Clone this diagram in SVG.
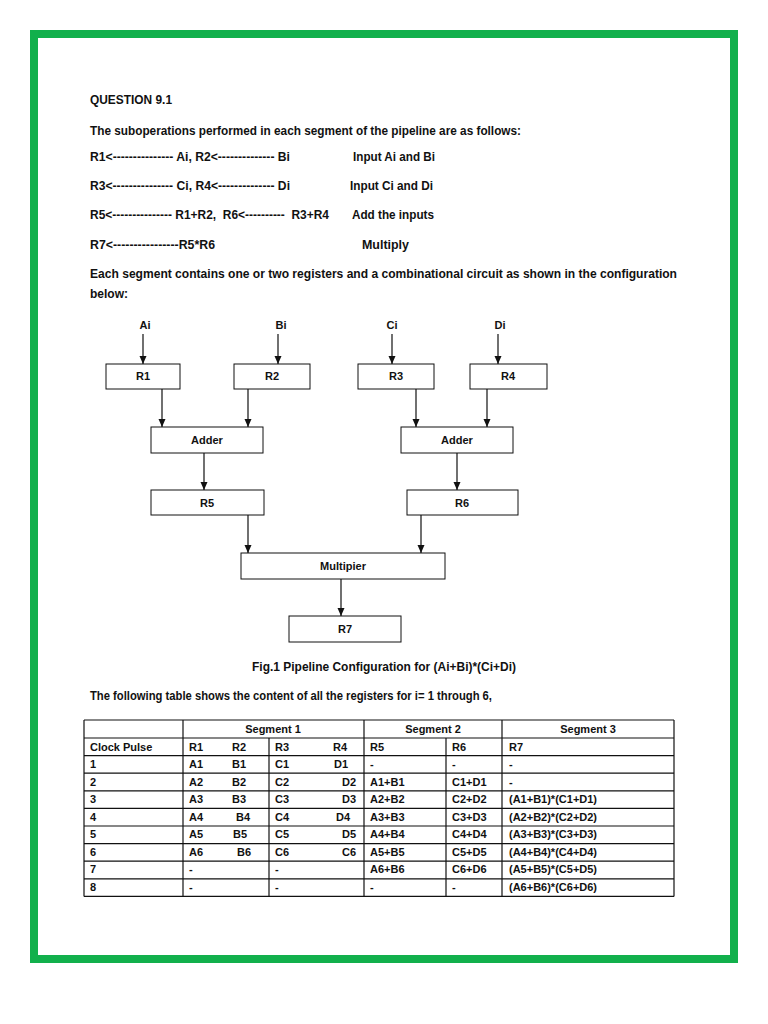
<svg xmlns="http://www.w3.org/2000/svg" width="768" height="1024" viewBox="0 0 768 1024">
<style>
text{font-family:"Liberation Sans",Arial,sans-serif;font-weight:bold;font-size:11px;fill:#111}
.p{font-size:12px}
.c{text-anchor:middle}
.r{text-anchor:end}
.box rect{fill:#fff;stroke:#111;stroke-width:1}
.con line{stroke:#111;stroke-width:1.2;marker-end:url(#ah)}
.tb line{stroke:#111;stroke-width:1.2}
</style>
<defs>
<marker id="ah" markerUnits="userSpaceOnUse" markerWidth="8" markerHeight="8" refX="8" refY="3.5" orient="auto">
<path d="M0,0 L8,3.5 L0,7 z" fill="#111"/>
</marker>
</defs>
<rect width="768" height="1024" fill="#fff"/>
<rect x="34" y="34" width="700" height="925" fill="none" stroke="#12b04c" stroke-width="8"/>

<text class="p" x="90" y="104" textLength="82" lengthAdjust="spacingAndGlyphs">QUESTION 9.1</text>
<text class="p" x="90" y="135" textLength="431" lengthAdjust="spacingAndGlyphs">The suboperations performed in each segment of the pipeline are as follows:</text>
<text class="p" x="90" y="161" textLength="200" lengthAdjust="spacingAndGlyphs">R1&lt;--------------- Ai, R2&lt;-------------- Bi</text>
<text class="p" x="353" y="161" textLength="82" lengthAdjust="spacingAndGlyphs">Input Ai and Bi</text>
<text class="p" x="90" y="190" textLength="200" lengthAdjust="spacingAndGlyphs">R3&lt;--------------- Ci, R4&lt;-------------- Di</text>
<text class="p" x="350" y="190" textLength="83" lengthAdjust="spacingAndGlyphs">Input Ci and Di</text>
<text class="p" x="90" y="219" xml:space="preserve" textLength="239" lengthAdjust="spacingAndGlyphs">R5&lt;--------------- R1+R2,  R6&lt;----------  R3+R4</text>
<text class="p" x="352" y="219" textLength="82" lengthAdjust="spacingAndGlyphs">Add the inputs</text>
<text class="p" x="90" y="249" textLength="125" lengthAdjust="spacingAndGlyphs">R7&lt;----------------R5*R6</text>
<text class="p" x="362" y="249" textLength="47" lengthAdjust="spacingAndGlyphs">Multiply</text>
<text class="p" x="90" y="278" textLength="587" lengthAdjust="spacingAndGlyphs">Each segment contains one or two registers and a combinational circuit as shown in the configuration</text>
<text class="p" x="90" y="298" textLength="38" lengthAdjust="spacingAndGlyphs">below:</text>

<g id="labels">
<text class="c" x="145" y="329">Ai</text>
<text class="c" x="281" y="329">Bi</text>
<text class="c" x="392" y="329">Ci</text>
<text class="c" x="500" y="329">Di</text>
</g>

<g id="R1" class="box"><rect x="106" y="364" width="74" height="25"/><text class="c" x="143" y="380">R1</text></g>
<g id="R2" class="box"><rect x="234" y="364" width="76" height="25"/><text class="c" x="272" y="380">R2</text></g>
<g id="R3" class="box"><rect x="358" y="364" width="76" height="25"/><text class="c" x="396" y="380">R3</text></g>
<g id="R4" class="box"><rect x="470" y="364" width="77" height="25"/><text class="c" x="508" y="380">R4</text></g>
<g id="Adder1" class="box"><rect x="151" y="427" width="112" height="26"/><text class="c" x="207" y="444">Adder</text></g>
<g id="Adder2" class="box"><rect x="401" y="427" width="112" height="26"/><text class="c" x="457" y="444">Adder</text></g>
<g id="R5" class="box"><rect x="151" y="490" width="113" height="25"/><text class="c" x="207" y="507">R5</text></g>
<g id="R6" class="box"><rect x="407" y="490" width="111" height="25"/><text class="c" x="462" y="507">R6</text></g>
<g id="Multiplier" class="box"><rect x="241" y="553" width="204" height="26"/><text class="c" x="343" y="570">Multipier</text></g>
<g id="R7" class="box"><rect x="289" y="616" width="112" height="26"/><text class="c" x="345" y="633">R7</text></g>

<g id="connectors" class="con">
<line x1="143" y1="334" x2="143" y2="364"/>
<line x1="278" y1="334" x2="278" y2="364"/>
<line x1="392" y1="334" x2="392" y2="364"/>
<line x1="498" y1="334" x2="498" y2="364"/>
<line x1="162" y1="389" x2="162" y2="427"/>
<line x1="248" y1="389" x2="248" y2="427"/>
<line x1="416" y1="389" x2="416" y2="427"/>
<line x1="487" y1="389" x2="487" y2="427"/>
<line x1="204" y1="453" x2="204" y2="490"/>
<line x1="457" y1="453" x2="457" y2="490"/>
<line x1="248" y1="515" x2="248" y2="553"/>
<line x1="421" y1="515" x2="421" y2="553"/>
<line x1="341" y1="579" x2="341" y2="616"/>
</g>

<text class="p" x="252" y="671" textLength="264" lengthAdjust="spacingAndGlyphs">Fig.1 Pipeline Configuration for (Ai+Bi)*(Ci+Di)</text>
<text class="p" x="90" y="700" textLength="402" lengthAdjust="spacingAndGlyphs">The following table shows the content of all the registers for i= 1 through 6,</text>

<g id="table">
<g class="tb">
<line x1="84" y1="720" x2="674" y2="720"/>
<line x1="84" y1="738" x2="674" y2="738"/>
<line x1="84" y1="755.6" x2="674" y2="755.6"/>
<line x1="84" y1="773.2" x2="674" y2="773.2"/>
<line x1="84" y1="790.8" x2="674" y2="790.8"/>
<line x1="84" y1="808.4" x2="674" y2="808.4"/>
<line x1="84" y1="826" x2="674" y2="826"/>
<line x1="84" y1="843.6" x2="674" y2="843.6"/>
<line x1="84" y1="861.2" x2="674" y2="861.2"/>
<line x1="84" y1="878.8" x2="674" y2="878.8"/>
<line x1="84" y1="896.4" x2="674" y2="896.4"/>
<line x1="84" y1="720" x2="84" y2="896.4"/>
<line x1="183" y1="720" x2="183" y2="896.4"/>
<line x1="364" y1="720" x2="364" y2="896.4"/>
<line x1="502" y1="720" x2="502" y2="896.4"/>
<line x1="674" y1="720" x2="674" y2="896.4"/>
<line x1="269" y1="738" x2="269" y2="896.4"/>
<line x1="446" y1="738" x2="446" y2="896.4"/>
</g>
<text class="c" x="273" y="733">Segment 1</text>
<text class="c" x="433" y="733">Segment 2</text>
<text class="c" x="588" y="733">Segment 3</text>

<text x="90" y="751">Clock Pulse</text>
<text x="189" y="751">R1</text><text x="232" y="751">R2</text><text x="275" y="751">R3</text><text x="333" y="751">R4</text>
<text x="370" y="751">R5</text><text x="452" y="751">R6</text><text x="509" y="751">R7</text>

<text x="90" y="768">1</text>
<text x="189" y="768">A1</text><text x="232" y="768">B1</text><text x="275" y="768">C1</text><text class="r" x="348" y="768">D1</text>
<text x="370" y="768">-</text><text x="452" y="768">-</text><text x="509" y="768">-</text>

<text x="90" y="786">2</text>
<text x="189" y="786">A2</text><text x="232" y="786">B2</text><text x="275" y="786">C2</text><text class="r" x="356" y="786">D2</text>
<text x="370" y="786">A1+B1</text><text x="452" y="786">C1+D1</text><text x="509" y="786">-</text>

<text x="90" y="803">3</text>
<text x="189" y="803">A3</text><text x="232" y="803">B3</text><text x="275" y="803">C3</text><text class="r" x="356" y="803">D3</text>
<text x="370" y="803">A2+B2</text><text x="452" y="803">C2+D2</text><text x="509" y="803">(A1+B1)*(C1+D1)</text>

<text x="90" y="821">4</text>
<text x="189" y="821">A4</text><text x="236" y="821">B4</text><text x="275" y="821">C4</text><text class="r" x="350" y="821">D4</text>
<text x="370" y="821">A3+B3</text><text x="452" y="821">C3+D3</text><text x="509" y="821">(A2+B2)*(C2+D2)</text>

<text x="90" y="838">5</text>
<text x="189" y="838">A5</text><text x="233" y="838">B5</text><text x="275" y="838">C5</text><text class="r" x="356" y="838">D5</text>
<text x="370" y="838">A4+B4</text><text x="452" y="838">C4+D4</text><text x="509" y="838">(A3+B3)*(C3+D3)</text>

<text x="90" y="856">6</text>
<text x="189" y="856">A6</text><text x="237" y="856">B6</text><text x="275" y="856">C6</text><text class="r" x="356" y="856">C6</text>
<text x="370" y="856">A5+B5</text><text x="452" y="856">C5+D5</text><text x="509" y="856">(A4+B4)*(C4+D4)</text>

<text x="90" y="873">7</text>
<text x="189" y="873">-</text><text x="275" y="873">-</text>
<text x="370" y="873">A6+B6</text><text x="452" y="873">C6+D6</text><text x="509" y="873">(A5+B5)*(C5+D5)</text>

<text x="90" y="891">8</text>
<text x="189" y="891">-</text><text x="275" y="891">-</text>
<text x="370" y="891">-</text><text x="452" y="891">-</text><text x="509" y="891">(A6+B6)*(C6+D6)</text>
</g>
</svg>
